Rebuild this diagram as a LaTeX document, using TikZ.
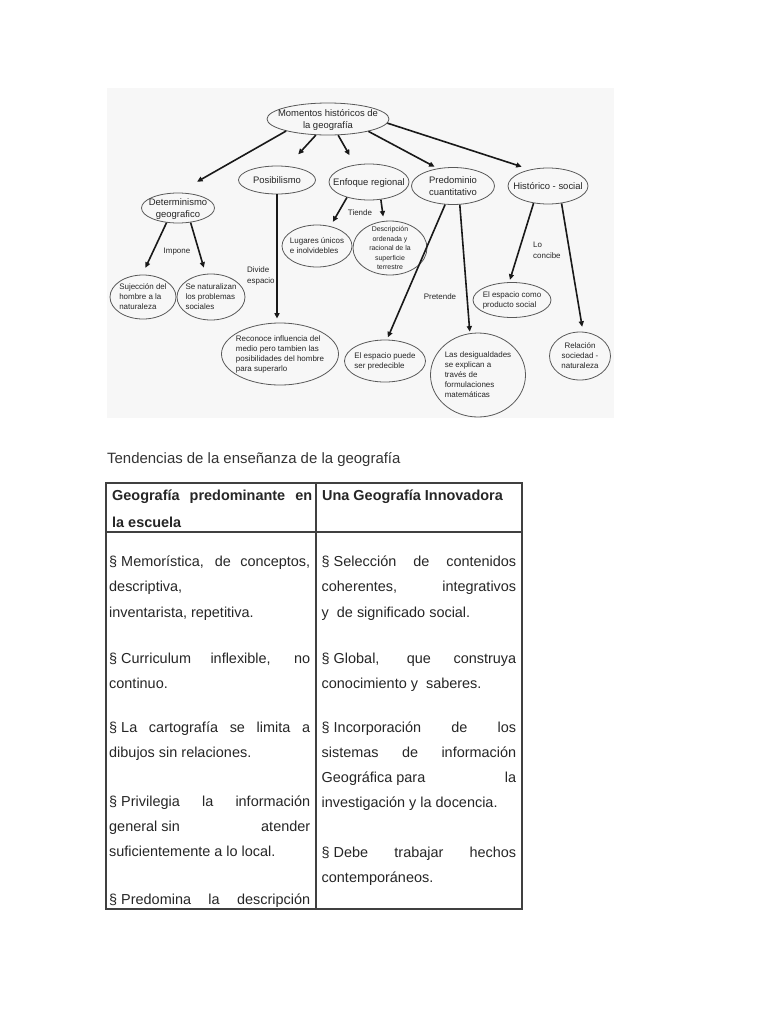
\documentclass[tikz,border=0pt]{standalone}
\usepackage{fontspec}
\setmainfont{Liberation Sans}
\usetikzlibrary{arrows.meta, positioning, calc, shapes.geometric}

\newcommand{\elltxt}[2][l]{\smash{\makebox[0pt]{\raisebox{-.35em}{\begin{tabular}{@{}#1@{}}#2\end{tabular}}}}}
\newcommand{\jl}[1]{\makebox[201bp][s]{#1}}
\newcommand{\jr}[1]{\makebox[194.5bp][s]{#1}}
\newcommand{\secmark}{\S\hspace{4bp}}
\newcommand{\fsp}{\hspace{.28em}}

\begin{document}
\begin{tikzpicture}[x=1bp, y=-1bp,
    ell/.style={ellipse, draw=black!65, line width=.8bp, inner sep=0pt, text=black!85,
        font=\fontsize{8}{10}\selectfont},
    big/.style={ell, font=\fontsize{9.5}{11.5}\selectfont},
    sz/.style 2 args={minimum width=#1bp, minimum height=#2bp},
    lbl/.style={inner sep=0pt, align=left, text=black!85, font=\fontsize{8}{11}\selectfont},
    arr/.style={-{Triangle[length=5.5bp, width=5bp]}, line width=1.6bp, black!90},
    cell/.style={anchor=base west, inner sep=0pt, text=black!85, font=\fontsize{14.5}{17}\selectfont},
    head/.style={cell, font=\fontsize{14.5}{17}\selectfont\bfseries}]
    \fill[white] (0,0) rectangle (768,1024);
    \useasboundingbox (0,0) rectangle (768,1024);
    \fill[black!3] (107,88) rectangle (614,418);

    % concept map
    \node[big, sz={122}{32}] (mom) at (328,119) {\elltxt[c]{Momentos históricos de\\la geografía}};
    \node[big, sz={77}{28}] (pos) at (277,180) {\elltxt[c]{Posibilismo}};
    \node[big, sz={80}{36}] (enf) at (369,182) {\elltxt[c]{Enfoque regional}};
    \node[big, sz={83}{37}] (pre) at (453,186) {\elltxt[c]{Predominio\\cuantitativo}};
    \node[big, sz={80}{36}] (his) at (548,186) {\elltxt[c]{Histórico - social}};
    \node[big, sz={73}{30}] (det) at (178,208) {\elltxt[c]{Determinismo\\geografico}};
    \node[ell, sz={70}{42}] (lug) at (317,246) {\elltxt{Lugares únicos\\e inolvidebles}};
    \node[ell, sz={74}{54}, font=\fontsize{7}{9.5}\selectfont] (des) at (390,248)
        {\elltxt[c]{Descripción\\ordenada y\\racional de la\\superficie\\terrestre}};
    \node[ell, sz={66}{44}] (suj) at (143,297) {\elltxt{Sujección del\\hombre a la\\naturaleza}};
    \node[ell, sz={68}{46}] (nat) at (211,297) {\elltxt{Se naturalizan\\los problemas\\sociales}};
    \node[ell, sz={117}{62}] (rec) at (280,354)
        {\elltxt{Reconoce influencia del\\medio pero tambien las\\posibilidades del hombre\\para superarlo}};
    \node[ell, sz={81}{42}] (esp) at (385,361) {\elltxt{El espacio puede\\ser predecible}};
    \node[ell, sz={95}{84}] (dsg) at (478,375)
        {\elltxt{Las desigualdades\\se explican a\\través de\\formulaciones\\matemáticas}};
    \node[ell, sz={78}{35}] (pro) at (512,300) {\elltxt{El espacio como\\producto social}};
    \node[ell, sz={61}{48}] (rel) at (580,356) {\elltxt[c]{Relación\\sociedad -\\naturaleza}};

    \node[lbl] (impone) at (177,252) {Impone};
    \node[lbl] (tiende) at (360,213) {Tiende};
    \node[lbl, anchor=west] (divide) at (247,276) {Divide\\espacio};
    \node[lbl] (pretende) at (440,297) {Pretende};
    \node[lbl, anchor=west] (concibe) at (533,250) {Lo\\concibe};

    \draw[arr, shorten >=22bp] (mom.196) -- (det.north);
    \draw[arr, shorten >=16bp] (mom.233) -- (pos.53);
    \draw[arr, shorten >=11bp] (mom.302) -- (enf.129);
    \draw[arr, shorten >=3.5bp] (mom.343) -- (pre.131);
    \draw[arr, shorten >=9bp] (mom.356) -- (his.137);
    \draw[arr, shorten >=7.5bp] (det.232) -- (suj.92);
    \draw[arr, shorten >=6.5bp] (det.311) -- (nat.103);
    \draw[arr, shorten >=4bp] (pos.south) -- (pos.south |- rec.north);
    \draw[arr, shorten >=5bp] (enf.215) -- (lug.56);
    \draw[arr, shorten >=4.5bp] (enf.304) -- (des.103);
    \draw[arr, shorten >=2.5bp] (pre.247) -- (esp.85);
    \draw[arr, shorten >=1.6bp] (pre.290) -- (dsg.101);
    \draw[arr, shorten >=2.5bp] (his.230) -- (pro.99);
    \draw[arr, shorten >=5bp] (his.308) -- (rel.83);

    % table
    \node[cell, text=black!80, font=\fontsize{15}{18}\selectfont] (title) at (107,463)
        {Tendencias de la enseñanza de la geografía};
    \draw[line width=1.5bp, black!75] (106,483) rectangle (522,909)
        (316,483) -- (316,909) (106,532) -- (522,532);

    \node[head] (h1) at (112,500) {\makebox[200bp][s]{Geografía predominante en}};
    \node[head] (h2) at (112,527) {la escuela};
    \node[head] (h3) at (322,500) {Una Geografía Innovadora};

    \node[cell] (l1) at (109,566) {\jl{\secmark Memorística, de conceptos,}};
    \node[cell] (l2) at (109,591.5) {descriptiva,};
    \node[cell] (l3) at (109,617) {inventarista, repetitiva.};
    \node[cell] (l4) at (109,663) {\jl{\secmark Curriculum inflexible, no}};
    \node[cell] (l5) at (109,688.5) {continuo.};
    \node[cell] (l6) at (109,732) {\jl{\secmark La cartografía se limita a}};
    \node[cell] (l7) at (109,757) {dibujos sin relaciones.};
    \node[cell] (l8) at (109,806) {\jl{\secmark Privilegia la información}};
    \node[cell] (l9) at (109,831) {\jl{general\fsp sin atender}};
    \node[cell] (l10) at (109,856.5) {suficientemente a lo local.};
    \node[cell] (l11) at (109,904) {\jl{\secmark Predomina la descripción}};

    \node[cell] (r1) at (321.5,566) {\jr{\secmark Selección de contenidos}};
    \node[cell] (r2) at (321.5,591.5) {\jr{coherentes, integrativos}};
    \node[cell] (r3) at (321.5,617) {y\ \ de significado social.};
    \node[cell] (r4) at (321.5,663) {\jr{\secmark Global, que construya}};
    \node[cell] (r5) at (321.5,688.5) {conocimiento y\ \ saberes.};
    \node[cell] (r6) at (321.5,732) {\jr{\secmark Incorporación de los}};
    \node[cell] (r7) at (321.5,757) {\jr{sistemas de información}};
    \node[cell] (r8) at (321.5,782) {\jr{Geográfica\fsp para la}};
    \node[cell] (r9) at (321.5,807) {investigación y la docencia.};
    \node[cell] (r10) at (321.5,857) {\jr{\secmark Debe trabajar hechos}};
    \node[cell] (r11) at (321.5,882) {contemporáneos.};
\end{tikzpicture}
\end{document}
